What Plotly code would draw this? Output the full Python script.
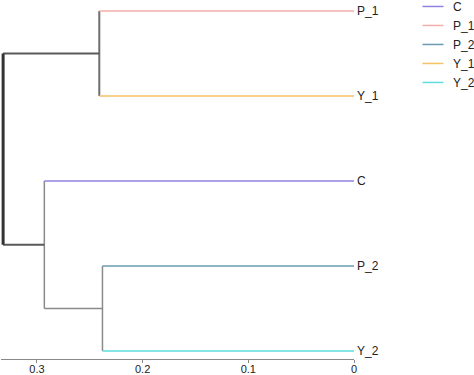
import plotly.graph_objects as go

# Data
leaves = ["P_1", "Y_1", "C", "P_2", "Y_2"]
leaf_colors = {"C": "#8f82e2", "P_1": "#f3aeab", "P_2": "#6a9ab4", "Y_1": "#f5c266", "Y_2": "#5edcdf"}
legend_order = ["C", "P_1", "P_2", "Y_1", "Y_2"]
h_p1_y1 = 0.241      # merge P_1 + Y_1
h_p2_y2 = 0.238      # merge P_2 + Y_2
h_c_p2y2 = 0.293     # merge C + (P_2,Y_2)
h_root = 0.332       # root
x_ticks = [0.3, 0.2, 0.1, 0]
x_ticktext = ["0.3", "0.2", "0.1", "0"]

ypos = {name: len(leaves) - 1 - i for i, name in enumerate(leaves)}
merge_of = {"P_1": h_p1_y1, "Y_1": h_p1_y1, "C": h_c_p2y2, "P_2": h_p2_y2, "Y_2": h_p2_y2}

fig = go.Figure()

def seg(xs, ys, color, width):
    fig.add_trace(go.Scatter(x=xs, y=ys, mode="lines", line=dict(color=color, width=width),
                             showlegend=False, hoverinfo="skip"))

y_a = (ypos["P_1"] + ypos["Y_1"]) / 2
y_b = (ypos["P_2"] + ypos["Y_2"]) / 2
y_c = (ypos["C"] + y_b) / 2

# internal links
seg([h_p1_y1, h_p1_y1], [ypos["P_1"], ypos["Y_1"]], "#6e6e6e", 2)
seg([h_p2_y2, h_p2_y2], [ypos["P_2"], ypos["Y_2"]], "#8a8a8a", 1.5)
seg([h_c_p2y2, h_c_p2y2], [ypos["C"], y_b], "#8a8a8a", 1.5)
seg([h_c_p2y2, h_p2_y2], [y_b, y_b], "#8a8a8a", 1.5)
seg([h_root, h_p1_y1], [y_a, y_a], "#5a5a5a", 2)
seg([h_root, h_c_p2y2], [y_c, y_c], "#5a5a5a", 2)
seg([h_root, h_root], [y_a, y_c], "#333333", 3)

# leaf branches
for name in leaves:
    fig.add_trace(go.Scatter(x=[merge_of[name], 0], y=[ypos[name], ypos[name]], mode="lines",
                             line=dict(color=leaf_colors[name], width=1.5), name=name,
                             showlegend=False, hoverinfo="skip"))

# legend entries (short line symbols)
for name in legend_order:
    fig.add_trace(go.Scatter(x=[None], y=[None], mode="markers", name=name,
                             marker=dict(symbol="line-ew", size=15, color=leaf_colors[name],
                                         line=dict(color=leaf_colors[name], width=1.5)),
                             showlegend=True, hoverinfo="skip"))

fig.update_layout(
    width=474, height=375,
    margin=dict(l=1, r=120, t=3, b=16, autoexpand=False),
    plot_bgcolor="white", paper_bgcolor="white",
    font=dict(family="Liberation Sans, Arial, sans-serif", size=12, color="#222222"),
    legend=dict(x=413 / 474, xref="container", y=1.031, yref="paper", xanchor="left", yanchor="top",
                font=dict(size=12), bgcolor="rgba(0,0,0,0)", tracegroupgap=0, itemsizing="trace"),
    xaxis=dict(range=[0.334, 0], tickvals=x_ticks, ticktext=x_ticktext, showgrid=False, zeroline=False,
               showline=True, linecolor="#888888", linewidth=1, ticks="outside", ticklen=3,
               tickcolor="#888888", tickfont=dict(size=11, color="#222222"), automargin=False,
               ticklabelstandoff=-3),
    yaxis=dict(range=[-0.094, 4.094], side="right", tickvals=[ypos[n] for n in leaves], ticktext=leaves,
               showgrid=False, zeroline=False, showline=False, ticks="", automargin=False,
               ticklabelstandoff=2, tickfont=dict(size=12, color="#222222")),
)

fig.write_html("out.html", config={"displayModeBar": False},
               post_script="document.body.style.margin='0';")
